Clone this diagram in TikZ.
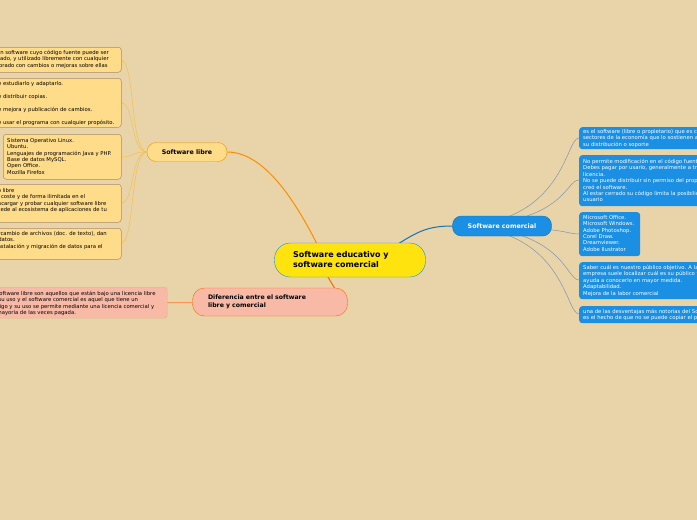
\documentclass[tikz,border=0pt]{standalone}
\usepackage{fontspec}
\setmainfont{DejaVu Sans}
\begin{document}
\begin{tikzpicture}[x=1pt,y=-1pt,
  txt/.style={font=\fontsize{5.3}{6.4}\selectfont, align=left, inner sep=0pt, anchor=north west},
  obox/.style={draw=brown!70!black!70, fill=ybox, rounded corners=3pt, line width=0.5pt},
  bbox/.style={fill=bcol, rounded corners=3pt},
  olink/.style={draw=olinkc, line width=0.5pt},
  blink/.style={draw=blinkc, line width=0.5pt}]
\definecolor{bg}{HTML}{E8D4A8}
\definecolor{ybox}{HTML}{FFDC8A}
\definecolor{bcol}{HTML}{1A8FE3}
\definecolor{olinkc}{HTML}{F7C04A}
\definecolor{blinkc}{HTML}{7F95B0}
\definecolor{salm}{HTML}{F8BAA6}
\path[use as bounding box, fill=bg] (0,0) rectangle (697,520);
\clip (0,0) rectangle (697,520);
% connectors
\coordinate (libL) at (147,152);
\coordinate (comL) at (453,226);
\foreach \y in {60,103,157,203,243}{\draw[olink] (libL) .. controls (130,152) and (135,\y) .. (121,\y);}
\foreach \y in {138,180,234,280,314}{\draw[blink] (comL) .. controls (565,226) and (565,\y) .. (579,\y);}
\draw[draw=orange!90!yellow, line width=1pt] (318,246) .. controls (290,190) and (260,152) .. (227,152);
\draw[draw=bcol!80!black, line width=1pt] (398,244) .. controls (420,230) and (430,226) .. (453,226);
\draw[draw=orange!80!red, line width=1pt] (328,277) .. controls (338,295) and (345,302) .. (348,302);
\draw[draw=orange!80!red!70, line width=0.6pt] (193,302) -- (167,302);
% left boxes
\node[obox, minimum width=131, minimum height=25, anchor=north west] (b1) at (-10,47) {};
\node[txt] (t1) at (-11,50) {Es un software cuyo código fuente puede ser\\copiado, y utilizado libremente con cualquier\\mejorado con cambios o mejoras sobre ellas};
\node[obox, minimum width=131, minimum height=49, anchor=north west] (b2) at (-10,78) {};
\node[txt, font=\fontsize{5.3}{13}\selectfont] (t2) at (-29,81) {Libertad de estudiarlo y adaptarlo.\\Libertad de distribuir copias.\\Libertad de mejora y publicación de cambios.\\Libertad de usar el programa con cualquier propósito.};
\node[obox, minimum width=118, minimum height=45, anchor=north west] (b3) at (3,134) {};
\node[txt] (t3) at (7,138) {Sistema Operativo Linux.\\Ubuntu.\\Lenguajes de programación Java y PHP.\\Base de datos MySQL.\\Open Office.\\Mozilla Firefox};
\node[obox, minimum width=131, minimum height=38, anchor=north west] (b4) at (-10,184) {};
\node[txt] (t4) at (-9,188) {Uso libre\\Sin coste y de forma ilimitada en el\\Descargar y probar cualquier software libre\\Accede al ecosistema de aplicaciones de tu};
\node[obox, minimum width=131, minimum height=31, anchor=north west] (b5) at (-10,228) {};
\node[txt] (t5) at (-12,231) {Intercambio de archivos (doc. de texto), dan\\\ \ \ \ \ \ datos.\\La instalación y migración de datos para el};
\node[draw=brown!60, fill=salm, rounded corners=3pt, minimum width=177, minimum height=31, anchor=north west] (dl) at (-10,287) {};
\node[txt] (t6) at (-10,291) {El software libre son aquellos que están bajo una licencia libre\\de su uso y el software comercial es aquel que tiene un\\código y su uso se permite mediante una licencia comercial y\\la mayoría de las veces pagada.};
% main nodes
\node[draw=orange!90!yellow, fill=ybox, rounded corners=9pt, minimum width=80, minimum height=19, font=\fontsize{6.3}{7}\selectfont\bfseries] (lib) at (187,152) {Software libre};
\node[draw=bcol, fill=yellow!85!orange!95, rounded corners=16pt, minimum width=151, minimum height=34, font=\fontsize{8}{10}\selectfont\bfseries, align=left, text width=114] (cen) at (350,260) {Software educativo y\\software comercial};
\node[draw=orange!80!red, fill=salm, rounded corners=12pt, minimum width=155, minimum height=28, font=\fontsize{6.2}{7.5}\selectfont\bfseries, align=left, text width=124] (dif) at (270,302) {Diferencia entre el software\\libre y comercial};
\node[fill=bcol, draw=bcol!80!black, rounded corners=9pt, minimum width=99, minimum height=20, text=white, font=\fontsize{6.3}{7}\selectfont\bfseries] (com) at (502,226) {Software comercial};
% right boxes
\begin{scope}[every node/.append style={text=white}]
\node[bbox, minimum width=131, minimum height=22, anchor=north west] (r1) at (579,127) {};
\node[txt] at (583,129) {es el software (libre o propietario) que es comercializado\\sectores de la economía que lo sostienen a través de\\su distribución o soporte};
\node[bbox, minimum width=131, minimum height=51, anchor=north west] (r2) at (579,155) {};
\node[txt] at (583,159) {No permite modificación en el código fuente.\\Debes pagar por usario, generalmente a través de una\\licencia.\\No se puede distribuir sin permiso del propietario que\\creó el software.\\Al estar cerrado su código limita la posibilidad al\\usuario};
\node[bbox, minimum width=61, minimum height=44, anchor=north west] (r3) at (579,212) {};
\node[txt] at (583,215) {Microsoft Office.\\Microsoft Windows.\\Adobe Photoshop.\\Corel Draw.\\Dreamviewer.\\Adobe Ilustrator};
\node[bbox, minimum width=131, minimum height=37, anchor=north west] (r4) at (579,262) {};
\node[txt] at (583,265) {Saber cuál es nuestro público objetivo. A la hora de una\\empresa suele localizar cuál es su público y\\ayuda a conocerlo en mayor medida.\\Adaptabilidad.\\Mejora de la labor comercial};
\node[bbox, minimum width=131, minimum height=17, anchor=north west] (r5) at (579,306) {};
\node[txt] at (583,309) {una de las desventajas más notorias del Software comercial\\es el hecho de que no se puede copiar el programa};
\end{scope}
\end{tikzpicture}
\end{document}
